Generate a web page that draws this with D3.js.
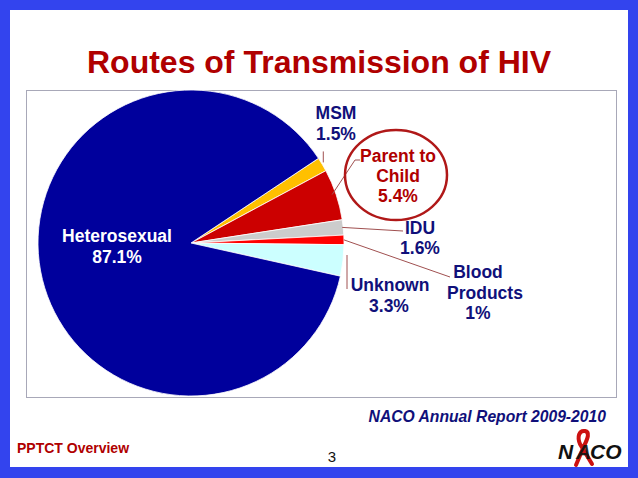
<!DOCTYPE html>
<html>
<head>
<meta charset="utf-8">
<script src="https://cdn.jsdelivr.net/npm/d3@7/dist/d3.min.js"></script>
<style>
  html, body { margin: 0; padding: 0; background: #3344ee; }
  svg { display: block; }
  text { font-family: Arial, "Liberation Sans", sans-serif; }
</style>
</head>
<body>
<svg id="chart" width="638" height="478"></svg>
<script>
const categories = ["MSM", "Parent to Child", "IDU", "Blood Products", "Unknown", "Heterosexual"];
const values = [1.5, 5.4, 1.6, 1.0, 3.3, 87.1];
const valueLabels = ["1.5%", "5.4%", "1.6%", "1%", "3.3%", "87.1%"];
const colors = ["#ffc000", "#cc0000", "#cccccc", "#ff0000", "#ccffff", "#00009c"];

const svg = d3.select("#chart");
const W = 638, H = 478;

svg.append("rect").attr("x", 0).attr("y", 0).attr("width", W).attr("height", H).attr("fill", "#3344ee");
svg.append("rect").attr("x", 10).attr("y", 10).attr("width", 618).attr("height", 457).attr("fill", "#ffffff");

svg.append("text").attr("x", 319).attr("y", 73).attr("text-anchor", "middle")
  .attr("font-size", 32).attr("font-weight", "bold").attr("fill", "#b00000")
  .text("Routes of Transmission of HIV");

svg.append("rect").attr("x", 26.5).attr("y", 90.5).attr("width", 590).attr("height", 307)
  .attr("fill", "#ffffff").attr("stroke", "#a8a8b8").attr("stroke-width", 1);

const cx = 191, cy = 243, r = 153;
const data = categories.map((c, i) => ({ cat: c, value: values[i], color: colors[i], label: valueLabels[i] }));
const startDeg = 56.4;
const pie = d3.pie().sort(null).value(d => d.value)
  .startAngle(startDeg * Math.PI / 180).endAngle((startDeg + 360) * Math.PI / 180);
const arc = d3.arc().innerRadius(0).outerRadius(r);
const g = svg.append("g").attr("transform", `translate(${cx},${cy})`);
const arcs = pie(data);
g.selectAll("path").data(arcs).enter().append("path")
  .attr("d", arc).attr("fill", d => d.data.color)
  .attr("stroke", "#ffffff").attr("stroke-width", 0.8);

function edge(i, frac) {
  const a = arcs[i].startAngle + (arcs[i].endAngle - arcs[i].startAngle) * frac;
  return [cx + r * Math.sin(a), cy - r * Math.cos(a)];
}

const navy = "#10107a";
const leader = "#a05050";
const lab = svg.append("g").attr("font-weight", "bold").attr("font-size", 17.5).attr("text-anchor", "middle");

// MSM
let p = edge(0, 0.5);
svg.append("path").attr("d", `M${p[0]+1},${p[1]-2}L${p[0]+1},${p[1]-13}`).attr("stroke", leader).attr("fill", "none");
lab.append("text").attr("x", 336).attr("y", 119).attr("fill", navy).text(categories[0]);
lab.append("text").attr("x", 336).attr("y", 140).attr("fill", navy).text(valueLabels[0]);

// Parent to Child
p = edge(1, 0.5);
svg.append("path").attr("d", `M${p[0]-4},${p[1]}L355,160L360,160`).attr("stroke", leader).attr("fill", "none");
svg.append("ellipse").attr("cx", 396).attr("cy", 175).attr("rx", 51).attr("ry", 45)
  .attr("fill", "none").attr("stroke", "#b01818").attr("stroke-width", 2.5);
lab.append("text").attr("x", 398).attr("y", 162).attr("fill", "#b00000").text("Parent to");
lab.append("text").attr("x", 398).attr("y", 182).attr("fill", "#b00000").text("Child");
lab.append("text").attr("x", 398).attr("y", 202).attr("fill", "#b00000").text(valueLabels[1]);

// IDU
p = edge(2, 0.5);
svg.append("path").attr("d", `M${p[0]-1},${p[1]}L403,231`).attr("stroke", leader).attr("fill", "none");
lab.append("text").attr("x", 420).attr("y", 234).attr("fill", navy).text(categories[2]);
lab.append("text").attr("x", 420).attr("y", 254).attr("fill", navy).text(valueLabels[2]);

// Blood Products
p = edge(3, 0.5);
svg.append("path").attr("d", `M${p[0]},${p[1]}L450,277`).attr("stroke", leader).attr("fill", "none");
lab.append("text").attr("x", 478).attr("y", 278).attr("fill", navy).text("Blood");
lab.append("text").attr("x", 485).attr("y", 299).attr("fill", navy).text("Products");
lab.append("text").attr("x", 478).attr("y", 319).attr("fill", navy).text(valueLabels[3]);

// Unknown
svg.append("path").attr("d", `M347,255L347,289`).attr("stroke", leader).attr("fill", "none");
lab.append("text").attr("x", 390).attr("y", 291).attr("fill", navy).text(categories[4]);
lab.append("text").attr("x", 389).attr("y", 312).attr("fill", navy).text(valueLabels[4]);

// Heterosexual
lab.append("text").attr("x", 117).attr("y", 242).attr("fill", "#ffffff").text(categories[5]);
lab.append("text").attr("x", 117).attr("y", 263).attr("fill", "#ffffff").text(valueLabels[5]);

// Source
svg.append("text").attr("x", 606).attr("y", 422).attr("text-anchor", "end")
  .attr("font-size", 15.7).attr("font-weight", "bold").attr("font-style", "italic").attr("fill", "#10107a")
  .text("NACO Annual Report 2009-2010");

// Footer
svg.append("text").attr("x", 17).attr("y", 453).attr("font-size", 14).attr("font-weight", "bold")
  .attr("fill", "#b00000").text("PPTCT Overview");
svg.append("text").attr("x", 332).attr("y", 462).attr("text-anchor", "middle").attr("font-size", 15)
  .attr("fill", "#111111").text("3");

// NACO logo
const logo = svg.append("g");
logo.append("text").attr("x", 558).attr("y", 459).attr("font-size", 21).attr("font-weight", "bold")
  .attr("font-style", "italic").attr("fill", "#111111").text("N");
logo.append("text").attr("x", 590).attr("y", 459).attr("font-size", 21).attr("font-weight", "bold")
  .attr("font-style", "italic").attr("fill", "#111111").text("CO");
logo.append("path")
  .attr("d", "M576,465 L584,446 C588,438 590,432 585,431 C579,430 577,437 580,444 L592,464")
  .attr("fill", "none").attr("stroke", "#cc1111").attr("stroke-width", 4).attr("stroke-linecap", "round");
logo.append("text").attr("x", 576).attr("y", 459).attr("font-size", 21).attr("font-weight", "bold")
  .attr("font-style", "italic").attr("fill", "#111111").text("A").attr("opacity", 0.9);
</script>
</body>
</html>
